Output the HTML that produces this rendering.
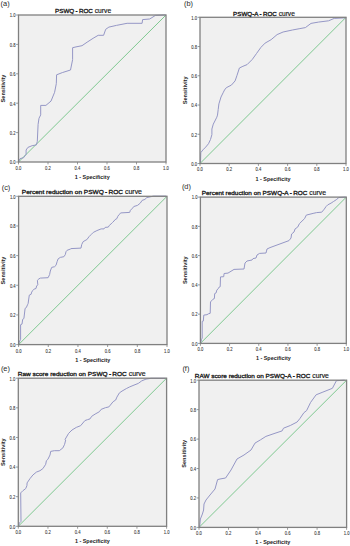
<!DOCTYPE html>
<html><head><meta charset="utf-8"><style>
html,body{margin:0;padding:0;background:#fff;width:350px;height:546px;overflow:hidden}
svg{display:block}
text{font-family:"Liberation Sans",sans-serif;}
.tk{font-size:4.9px;fill:#333;stroke:#333;stroke-width:0.08px}
.ax{font-size:6px;font-weight:bold;fill:#222}
.tt{font-size:6.2px;fill:#1a1a1a}
.tb{stroke:#1a1a1a;stroke-width:0.32px}
.tc{stroke:#1a1a1a;stroke-width:0.18px;font-size:6.6px}
.lb{font-size:7.4px;fill:#2a2a2a}
</style></head><body>
<svg width="350" height="546" viewBox="0 0 350 546">
<rect width="350" height="546" fill="#fff"/>
<rect x="18.5" y="15" width="147.50" height="147.00" fill="#f0f0f0"/>
<line x1="18.5" y1="162" x2="166" y2="15" stroke="#78c68b" stroke-width="0.95"/>
<polyline points="18.8,162.0 18.8,161.1 20.1,158.6 23.6,157.7 26.1,154.3 26.1,150.0 27.9,147.4 32.1,145.7 36.4,144.9 37.3,141.4 38.1,124.3 39.0,118.3 40.7,114.9 40.7,105.4 45.9,105.4 51.0,101.1 54.6,92.3 56.3,83.7 56.6,74.8 62.3,72.6 70.5,70.0 72.6,59.7 72.6,47.7 76.0,46.9 82.0,45.7 87.1,42.2 93.1,38.3 98.2,35.3 103.6,35.3 105.7,29.3 108.9,27.1 116.4,25.4 127.1,23.3 142.1,23.3 142.6,19.6 149.6,19.0 152.0,17.6 155.4,15.4 165.7,14.9" fill="none" stroke="#9597c6" stroke-width="1" stroke-linejoin="round"/>
<rect x="18.5" y="15" width="147.50" height="147.00" fill="none" stroke="#808080" stroke-width="1.3"/>
<line x1="16.1" y1="162.00" x2="18.5" y2="162.00" stroke="#808080" stroke-width="0.8"/>
<line x1="18.50" y1="162" x2="18.50" y2="164.4" stroke="#808080" stroke-width="0.8"/>
<text x="15.60" y="164.30" class="tk" text-anchor="end" textLength="5.8" lengthAdjust="spacingAndGlyphs">0.0</text>
<text x="18.50" y="169.90" class="tk" text-anchor="middle" textLength="5.8" lengthAdjust="spacingAndGlyphs">0.0</text>
<line x1="16.1" y1="132.60" x2="18.5" y2="132.60" stroke="#808080" stroke-width="0.8"/>
<line x1="48.00" y1="162" x2="48.00" y2="164.4" stroke="#808080" stroke-width="0.8"/>
<text x="15.60" y="134.90" class="tk" text-anchor="end" textLength="5.8" lengthAdjust="spacingAndGlyphs">0.2</text>
<text x="48.00" y="169.90" class="tk" text-anchor="middle" textLength="5.8" lengthAdjust="spacingAndGlyphs">0.2</text>
<line x1="16.1" y1="103.20" x2="18.5" y2="103.20" stroke="#808080" stroke-width="0.8"/>
<line x1="77.50" y1="162" x2="77.50" y2="164.4" stroke="#808080" stroke-width="0.8"/>
<text x="15.60" y="105.50" class="tk" text-anchor="end" textLength="5.8" lengthAdjust="spacingAndGlyphs">0.4</text>
<text x="77.50" y="169.90" class="tk" text-anchor="middle" textLength="5.8" lengthAdjust="spacingAndGlyphs">0.4</text>
<line x1="16.1" y1="73.80" x2="18.5" y2="73.80" stroke="#808080" stroke-width="0.8"/>
<line x1="107.00" y1="162" x2="107.00" y2="164.4" stroke="#808080" stroke-width="0.8"/>
<text x="15.60" y="76.10" class="tk" text-anchor="end" textLength="5.8" lengthAdjust="spacingAndGlyphs">0.6</text>
<text x="107.00" y="169.90" class="tk" text-anchor="middle" textLength="5.8" lengthAdjust="spacingAndGlyphs">0.6</text>
<line x1="16.1" y1="44.40" x2="18.5" y2="44.40" stroke="#808080" stroke-width="0.8"/>
<line x1="136.50" y1="162" x2="136.50" y2="164.4" stroke="#808080" stroke-width="0.8"/>
<text x="15.60" y="46.70" class="tk" text-anchor="end" textLength="5.8" lengthAdjust="spacingAndGlyphs">0.8</text>
<text x="136.50" y="169.90" class="tk" text-anchor="middle" textLength="5.8" lengthAdjust="spacingAndGlyphs">0.8</text>
<line x1="16.1" y1="15.00" x2="18.5" y2="15.00" stroke="#808080" stroke-width="0.8"/>
<line x1="166.00" y1="162" x2="166.00" y2="164.4" stroke="#808080" stroke-width="0.8"/>
<text x="15.60" y="17.30" class="tk" text-anchor="end" textLength="5.8" lengthAdjust="spacingAndGlyphs">1.0</text>
<text x="166.00" y="169.90" class="tk" text-anchor="middle" textLength="5.8" lengthAdjust="spacingAndGlyphs">1.0</text>
<text x="92.2" y="179.0" class="ax" text-anchor="middle" textLength="35" lengthAdjust="spacingAndGlyphs">1 - Specificity</text>
<text transform="translate(5.0,88.5) rotate(-90)" class="ax" text-anchor="middle" textLength="27.8" lengthAdjust="spacingAndGlyphs">Sensitivity</text>
<text x="55.0" y="12.9" class="tt" textLength="56.2" lengthAdjust="spacingAndGlyphs"><tspan class="tb">PSWQ - ROC</tspan><tspan class="tc"> curve</tspan></text>
<text x="0.6" y="6.3" class="lb">(a)</text>
<rect x="200" y="17.3" width="146.00" height="146.20" fill="#f0f0f0"/>
<line x1="200" y1="163.5" x2="346" y2="17.3" stroke="#78c68b" stroke-width="0.95"/>
<polyline points="200.5,162.5 200.8,152.7 202.9,149.9 205.7,147.1 208.5,143.7 210.5,139.5 211.9,134.6 211.9,129.0 213.3,124.1 215.4,120.0 216.8,117.2 217.5,115.1 218.2,109.5 218.9,103.9 221.0,97.0 223.1,92.8 224.5,90.0 226.3,87.7 231.4,85.1 235.1,80.9 236.9,75.7 239.4,68.0 242.9,66.3 247.1,64.6 252.3,59.4 256.6,53.4 260.9,47.4 265.1,43.1 271.1,39.7 277.1,34.6 283.1,32.0 292.4,30.0 299.9,28.6 305.4,27.6 311.0,23.4 318.4,22.1 328.6,20.8 334.2,18.4 346.3,17.8" fill="none" stroke="#9597c6" stroke-width="1" stroke-linejoin="round"/>
<rect x="200" y="17.3" width="146.00" height="146.20" fill="none" stroke="#808080" stroke-width="1.3"/>
<line x1="197.6" y1="163.50" x2="200" y2="163.50" stroke="#808080" stroke-width="0.8"/>
<line x1="200.00" y1="163.5" x2="200.00" y2="165.9" stroke="#808080" stroke-width="0.8"/>
<text x="197.10" y="165.80" class="tk" text-anchor="end" textLength="5.8" lengthAdjust="spacingAndGlyphs">0.0</text>
<text x="200.00" y="171.40" class="tk" text-anchor="middle" textLength="5.8" lengthAdjust="spacingAndGlyphs">0.0</text>
<line x1="197.6" y1="134.26" x2="200" y2="134.26" stroke="#808080" stroke-width="0.8"/>
<line x1="229.20" y1="163.5" x2="229.20" y2="165.9" stroke="#808080" stroke-width="0.8"/>
<text x="197.10" y="136.56" class="tk" text-anchor="end" textLength="5.8" lengthAdjust="spacingAndGlyphs">0.2</text>
<text x="229.20" y="171.40" class="tk" text-anchor="middle" textLength="5.8" lengthAdjust="spacingAndGlyphs">0.2</text>
<line x1="197.6" y1="105.02" x2="200" y2="105.02" stroke="#808080" stroke-width="0.8"/>
<line x1="258.40" y1="163.5" x2="258.40" y2="165.9" stroke="#808080" stroke-width="0.8"/>
<text x="197.10" y="107.32" class="tk" text-anchor="end" textLength="5.8" lengthAdjust="spacingAndGlyphs">0.4</text>
<text x="258.40" y="171.40" class="tk" text-anchor="middle" textLength="5.8" lengthAdjust="spacingAndGlyphs">0.4</text>
<line x1="197.6" y1="75.78" x2="200" y2="75.78" stroke="#808080" stroke-width="0.8"/>
<line x1="287.60" y1="163.5" x2="287.60" y2="165.9" stroke="#808080" stroke-width="0.8"/>
<text x="197.10" y="78.08" class="tk" text-anchor="end" textLength="5.8" lengthAdjust="spacingAndGlyphs">0.6</text>
<text x="287.60" y="171.40" class="tk" text-anchor="middle" textLength="5.8" lengthAdjust="spacingAndGlyphs">0.6</text>
<line x1="197.6" y1="46.54" x2="200" y2="46.54" stroke="#808080" stroke-width="0.8"/>
<line x1="316.80" y1="163.5" x2="316.80" y2="165.9" stroke="#808080" stroke-width="0.8"/>
<text x="197.10" y="48.84" class="tk" text-anchor="end" textLength="5.8" lengthAdjust="spacingAndGlyphs">0.8</text>
<text x="316.80" y="171.40" class="tk" text-anchor="middle" textLength="5.8" lengthAdjust="spacingAndGlyphs">0.8</text>
<line x1="197.6" y1="17.30" x2="200" y2="17.30" stroke="#808080" stroke-width="0.8"/>
<line x1="346.00" y1="163.5" x2="346.00" y2="165.9" stroke="#808080" stroke-width="0.8"/>
<text x="197.10" y="19.60" class="tk" text-anchor="end" textLength="5.8" lengthAdjust="spacingAndGlyphs">1.0</text>
<text x="346.00" y="171.40" class="tk" text-anchor="middle" textLength="5.8" lengthAdjust="spacingAndGlyphs">1.0</text>
<text x="273.0" y="180.5" class="ax" text-anchor="middle" textLength="35" lengthAdjust="spacingAndGlyphs">1 - Specificity</text>
<text transform="translate(186.5,90.4) rotate(-90)" class="ax" text-anchor="middle" textLength="27.8" lengthAdjust="spacingAndGlyphs">Sensitivity</text>
<text x="233.1" y="15.9" class="tt" textLength="61.8" lengthAdjust="spacingAndGlyphs"><tspan class="tb">PSWQ-A - ROC</tspan><tspan class="tc"> curve</tspan></text>
<text x="184" y="6.0" class="lb">(b)</text>
<rect x="18.6" y="196.3" width="148.40" height="148.30" fill="#f0f0f0"/>
<line x1="18.6" y1="344.6" x2="167" y2="196.3" stroke="#78c68b" stroke-width="0.95"/>
<polyline points="18.4,344.1 20.6,339.3 20.6,324.7 22.0,324.1 22.7,319.3 23.9,318.5 25.1,308.4 26.3,307.6 27.5,304.8 28.1,303.6 29.3,295.1 31.1,294.3 31.7,292.1 32.9,290.3 34.1,289.1 36.0,288.5 36.6,286.0 37.8,284.8 37.4,280.3 38.9,278.9 40.3,278.1 48.1,277.7 49.6,274.6 50.3,271.0 51.7,267.4 54.6,266.7 56.0,265.3 57.1,261.7 58.1,258.9 60.3,257.4 63.9,256.7 65.3,254.6 66.0,251.7 67.1,250.3 70.3,249.1 71.0,248.6 81.0,248.1 81.7,244.6 83.1,241.7 86.0,240.0 86.9,239.6 89.0,236.7 91.1,234.6 93.3,232.4 96.9,230.6 101.1,228.9 104.0,228.9 105.1,227.4 108.3,227.1 109.4,225.3 111.1,223.9 112.6,222.4 114.0,221.0 115.1,219.6 116.9,218.6 117.6,216.7 119.0,214.6 120.9,212.9 129.7,212.4 130.4,210.3 132.6,208.1 133.8,206.5 137.5,205.4 140.3,203.1 142.1,200.4 144.9,199.4 146.8,197.6 151.4,196.6 153.3,196.1 166.3,196.1" fill="none" stroke="#9597c6" stroke-width="1" stroke-linejoin="round"/>
<rect x="18.6" y="196.3" width="148.40" height="148.30" fill="none" stroke="#808080" stroke-width="1.3"/>
<line x1="16.200000000000003" y1="344.60" x2="18.6" y2="344.60" stroke="#808080" stroke-width="0.8"/>
<line x1="18.60" y1="344.6" x2="18.60" y2="347.0" stroke="#808080" stroke-width="0.8"/>
<text x="15.70" y="346.90" class="tk" text-anchor="end" textLength="5.8" lengthAdjust="spacingAndGlyphs">0.0</text>
<text x="18.60" y="352.50" class="tk" text-anchor="middle" textLength="5.8" lengthAdjust="spacingAndGlyphs">0.0</text>
<line x1="16.200000000000003" y1="314.94" x2="18.6" y2="314.94" stroke="#808080" stroke-width="0.8"/>
<line x1="48.28" y1="344.6" x2="48.28" y2="347.0" stroke="#808080" stroke-width="0.8"/>
<text x="15.70" y="317.24" class="tk" text-anchor="end" textLength="5.8" lengthAdjust="spacingAndGlyphs">0.2</text>
<text x="48.28" y="352.50" class="tk" text-anchor="middle" textLength="5.8" lengthAdjust="spacingAndGlyphs">0.2</text>
<line x1="16.200000000000003" y1="285.28" x2="18.6" y2="285.28" stroke="#808080" stroke-width="0.8"/>
<line x1="77.96" y1="344.6" x2="77.96" y2="347.0" stroke="#808080" stroke-width="0.8"/>
<text x="15.70" y="287.58" class="tk" text-anchor="end" textLength="5.8" lengthAdjust="spacingAndGlyphs">0.4</text>
<text x="77.96" y="352.50" class="tk" text-anchor="middle" textLength="5.8" lengthAdjust="spacingAndGlyphs">0.4</text>
<line x1="16.200000000000003" y1="255.62" x2="18.6" y2="255.62" stroke="#808080" stroke-width="0.8"/>
<line x1="107.64" y1="344.6" x2="107.64" y2="347.0" stroke="#808080" stroke-width="0.8"/>
<text x="15.70" y="257.92" class="tk" text-anchor="end" textLength="5.8" lengthAdjust="spacingAndGlyphs">0.6</text>
<text x="107.64" y="352.50" class="tk" text-anchor="middle" textLength="5.8" lengthAdjust="spacingAndGlyphs">0.6</text>
<line x1="16.200000000000003" y1="225.96" x2="18.6" y2="225.96" stroke="#808080" stroke-width="0.8"/>
<line x1="137.32" y1="344.6" x2="137.32" y2="347.0" stroke="#808080" stroke-width="0.8"/>
<text x="15.70" y="228.26" class="tk" text-anchor="end" textLength="5.8" lengthAdjust="spacingAndGlyphs">0.8</text>
<text x="137.32" y="352.50" class="tk" text-anchor="middle" textLength="5.8" lengthAdjust="spacingAndGlyphs">0.8</text>
<line x1="16.200000000000003" y1="196.30" x2="18.6" y2="196.30" stroke="#808080" stroke-width="0.8"/>
<line x1="167.00" y1="344.6" x2="167.00" y2="347.0" stroke="#808080" stroke-width="0.8"/>
<text x="15.70" y="198.60" class="tk" text-anchor="end" textLength="5.8" lengthAdjust="spacingAndGlyphs">1.0</text>
<text x="167.00" y="352.50" class="tk" text-anchor="middle" textLength="5.8" lengthAdjust="spacingAndGlyphs">1.0</text>
<text x="92.8" y="361.6" class="ax" text-anchor="middle" textLength="35" lengthAdjust="spacingAndGlyphs">1 - Specificity</text>
<text transform="translate(5.1,270.5) rotate(-90)" class="ax" text-anchor="middle" textLength="27.8" lengthAdjust="spacingAndGlyphs">Sensitivity</text>
<text x="21.8" y="194.1" class="tt" textLength="120.2" lengthAdjust="spacingAndGlyphs"><tspan class="tb">Percent reduction on PSWQ - ROC</tspan><tspan class="tc"> curve</tspan></text>
<text x="1.7" y="189.6" class="lb">(c)</text>
<rect x="200.4" y="197.1" width="145.90" height="146.30" fill="#f0f0f0"/>
<line x1="200.4" y1="343.4" x2="346.3" y2="197.1" stroke="#78c68b" stroke-width="0.95"/>
<polyline points="200.6,343.2 201.1,341.5 201.5,339.4 202.2,338.1 202.2,321.4 203.3,321.1 203.8,315.1 207.0,314.7 208.4,313.8 210.2,313.3 210.5,301.7 211.9,300.6 213.0,299.2 214.4,298.5 214.7,293.6 216.1,292.9 216.8,290.1 218.1,288.8 218.8,287.4 220.2,286.7 220.5,276.9 223.7,276.7 224.1,273.5 228.0,273.1 234.0,269.4 244.0,269.0 245.0,263.0 247.0,261.0 252.0,260.0 253.0,258.6 256.0,258.0 257.0,255.0 259.6,253.4 266.0,253.0 267.0,249.0 270.0,247.6 289.0,240.6 291.0,238.0 291.6,234.0 294.0,232.0 295.1,228.9 297.7,227.1 299.4,223.7 302.0,221.1 304.6,218.6 306.3,215.1 313.1,213.4 316.6,212.6 321.7,212.2 324.3,209.1 326.0,206.6 327.7,204.9 331.1,203.1 333.7,201.4 336.3,199.7 338.9,197.5 345.7,197.1" fill="none" stroke="#9597c6" stroke-width="1" stroke-linejoin="round"/>
<rect x="200.4" y="197.1" width="145.90" height="146.30" fill="none" stroke="#808080" stroke-width="1.3"/>
<line x1="198.0" y1="343.40" x2="200.4" y2="343.40" stroke="#808080" stroke-width="0.8"/>
<line x1="200.40" y1="343.4" x2="200.40" y2="345.79999999999995" stroke="#808080" stroke-width="0.8"/>
<text x="197.50" y="345.70" class="tk" text-anchor="end" textLength="5.8" lengthAdjust="spacingAndGlyphs">0.0</text>
<text x="200.40" y="351.30" class="tk" text-anchor="middle" textLength="5.8" lengthAdjust="spacingAndGlyphs">0.0</text>
<line x1="198.0" y1="314.14" x2="200.4" y2="314.14" stroke="#808080" stroke-width="0.8"/>
<line x1="229.58" y1="343.4" x2="229.58" y2="345.79999999999995" stroke="#808080" stroke-width="0.8"/>
<text x="197.50" y="316.44" class="tk" text-anchor="end" textLength="5.8" lengthAdjust="spacingAndGlyphs">0.2</text>
<text x="229.58" y="351.30" class="tk" text-anchor="middle" textLength="5.8" lengthAdjust="spacingAndGlyphs">0.2</text>
<line x1="198.0" y1="284.88" x2="200.4" y2="284.88" stroke="#808080" stroke-width="0.8"/>
<line x1="258.76" y1="343.4" x2="258.76" y2="345.79999999999995" stroke="#808080" stroke-width="0.8"/>
<text x="197.50" y="287.18" class="tk" text-anchor="end" textLength="5.8" lengthAdjust="spacingAndGlyphs">0.4</text>
<text x="258.76" y="351.30" class="tk" text-anchor="middle" textLength="5.8" lengthAdjust="spacingAndGlyphs">0.4</text>
<line x1="198.0" y1="255.62" x2="200.4" y2="255.62" stroke="#808080" stroke-width="0.8"/>
<line x1="287.94" y1="343.4" x2="287.94" y2="345.79999999999995" stroke="#808080" stroke-width="0.8"/>
<text x="197.50" y="257.92" class="tk" text-anchor="end" textLength="5.8" lengthAdjust="spacingAndGlyphs">0.6</text>
<text x="287.94" y="351.30" class="tk" text-anchor="middle" textLength="5.8" lengthAdjust="spacingAndGlyphs">0.6</text>
<line x1="198.0" y1="226.36" x2="200.4" y2="226.36" stroke="#808080" stroke-width="0.8"/>
<line x1="317.12" y1="343.4" x2="317.12" y2="345.79999999999995" stroke="#808080" stroke-width="0.8"/>
<text x="197.50" y="228.66" class="tk" text-anchor="end" textLength="5.8" lengthAdjust="spacingAndGlyphs">0.8</text>
<text x="317.12" y="351.30" class="tk" text-anchor="middle" textLength="5.8" lengthAdjust="spacingAndGlyphs">0.8</text>
<line x1="198.0" y1="197.10" x2="200.4" y2="197.10" stroke="#808080" stroke-width="0.8"/>
<line x1="346.30" y1="343.4" x2="346.30" y2="345.79999999999995" stroke="#808080" stroke-width="0.8"/>
<text x="197.50" y="199.40" class="tk" text-anchor="end" textLength="5.8" lengthAdjust="spacingAndGlyphs">1.0</text>
<text x="346.30" y="351.30" class="tk" text-anchor="middle" textLength="5.8" lengthAdjust="spacingAndGlyphs">1.0</text>
<text x="273.4" y="360.4" class="ax" text-anchor="middle" textLength="35" lengthAdjust="spacingAndGlyphs">1 - Specificity</text>
<text transform="translate(186.9,270.2) rotate(-90)" class="ax" text-anchor="middle" textLength="27.8" lengthAdjust="spacingAndGlyphs">Sensitivity</text>
<text x="201.8" y="195.0" class="tt" textLength="124.2" lengthAdjust="spacingAndGlyphs"><tspan class="tb">Percent reduction on PSWQ-A - ROC</tspan><tspan class="tc"> curve</tspan></text>
<text x="181.9" y="189.1" class="lb">(d)</text>
<rect x="18.3" y="378.2" width="148.30" height="148.10" fill="#f0f0f0"/>
<line x1="18.3" y1="526.3" x2="166.6" y2="378.2" stroke="#78c68b" stroke-width="0.95"/>
<polyline points="18.8,525.7 19.3,523.1 21.0,521.4 20.7,492.9 22.9,490.7 25.7,488.6 26.9,485.7 27.1,482.9 30.0,478.6 32.9,475.0 36.4,472.1 40.0,470.7 42.9,468.6 45.7,464.3 46.4,460.7 47.9,459.3 50.0,455.0 50.7,451.4 54.3,450.7 59.3,450.7 62.9,447.9 64.6,444.3 65.7,440.0 65.1,439.4 68.6,433.4 72.0,430.0 76.3,427.4 80.6,425.7 84.9,420.6 87.4,419.7 90.0,418.9 91.7,416.3 95.1,414.1 99.4,411.7 101.1,409.4 105.4,407.7 108.9,406.9 113.1,401.7 115.7,400.0 116.9,397.1 119.4,392.9 122.0,391.1 126.3,388.6 129.7,386.9 134.0,385.1 138.3,383.4 141.7,380.9 146.0,379.1 151.1,378.3 165.7,378.3" fill="none" stroke="#9597c6" stroke-width="1" stroke-linejoin="round"/>
<rect x="18.3" y="378.2" width="148.30" height="148.10" fill="none" stroke="#808080" stroke-width="1.3"/>
<line x1="15.9" y1="526.30" x2="18.3" y2="526.30" stroke="#808080" stroke-width="0.8"/>
<line x1="18.30" y1="526.3" x2="18.30" y2="528.6999999999999" stroke="#808080" stroke-width="0.8"/>
<text x="15.40" y="528.60" class="tk" text-anchor="end" textLength="5.8" lengthAdjust="spacingAndGlyphs">0.0</text>
<text x="18.30" y="534.20" class="tk" text-anchor="middle" textLength="5.8" lengthAdjust="spacingAndGlyphs">0.0</text>
<line x1="15.9" y1="496.68" x2="18.3" y2="496.68" stroke="#808080" stroke-width="0.8"/>
<line x1="47.96" y1="526.3" x2="47.96" y2="528.6999999999999" stroke="#808080" stroke-width="0.8"/>
<text x="15.40" y="498.98" class="tk" text-anchor="end" textLength="5.8" lengthAdjust="spacingAndGlyphs">0.2</text>
<text x="47.96" y="534.20" class="tk" text-anchor="middle" textLength="5.8" lengthAdjust="spacingAndGlyphs">0.2</text>
<line x1="15.9" y1="467.06" x2="18.3" y2="467.06" stroke="#808080" stroke-width="0.8"/>
<line x1="77.62" y1="526.3" x2="77.62" y2="528.6999999999999" stroke="#808080" stroke-width="0.8"/>
<text x="15.40" y="469.36" class="tk" text-anchor="end" textLength="5.8" lengthAdjust="spacingAndGlyphs">0.4</text>
<text x="77.62" y="534.20" class="tk" text-anchor="middle" textLength="5.8" lengthAdjust="spacingAndGlyphs">0.4</text>
<line x1="15.9" y1="437.44" x2="18.3" y2="437.44" stroke="#808080" stroke-width="0.8"/>
<line x1="107.28" y1="526.3" x2="107.28" y2="528.6999999999999" stroke="#808080" stroke-width="0.8"/>
<text x="15.40" y="439.74" class="tk" text-anchor="end" textLength="5.8" lengthAdjust="spacingAndGlyphs">0.6</text>
<text x="107.28" y="534.20" class="tk" text-anchor="middle" textLength="5.8" lengthAdjust="spacingAndGlyphs">0.6</text>
<line x1="15.9" y1="407.82" x2="18.3" y2="407.82" stroke="#808080" stroke-width="0.8"/>
<line x1="136.94" y1="526.3" x2="136.94" y2="528.6999999999999" stroke="#808080" stroke-width="0.8"/>
<text x="15.40" y="410.12" class="tk" text-anchor="end" textLength="5.8" lengthAdjust="spacingAndGlyphs">0.8</text>
<text x="136.94" y="534.20" class="tk" text-anchor="middle" textLength="5.8" lengthAdjust="spacingAndGlyphs">0.8</text>
<line x1="15.9" y1="378.20" x2="18.3" y2="378.20" stroke="#808080" stroke-width="0.8"/>
<line x1="166.60" y1="526.3" x2="166.60" y2="528.6999999999999" stroke="#808080" stroke-width="0.8"/>
<text x="15.40" y="380.50" class="tk" text-anchor="end" textLength="5.8" lengthAdjust="spacingAndGlyphs">1.0</text>
<text x="166.60" y="534.20" class="tk" text-anchor="middle" textLength="5.8" lengthAdjust="spacingAndGlyphs">1.0</text>
<text x="92.4" y="543.3" class="ax" text-anchor="middle" textLength="35" lengthAdjust="spacingAndGlyphs">1 - Specificity</text>
<text transform="translate(4.8,452.2) rotate(-90)" class="ax" text-anchor="middle" textLength="27.8" lengthAdjust="spacingAndGlyphs">Sensitivity</text>
<text x="17.7" y="376.3" class="tt" textLength="128.0" lengthAdjust="spacingAndGlyphs"><tspan class="tb">Raw score reduction on PSWQ - ROC</tspan><tspan class="tc"> curve</tspan></text>
<text x="0.9" y="371.2" class="lb">(e)</text>
<rect x="199" y="380.2" width="147.60" height="147.20" fill="#f0f0f0"/>
<line x1="199" y1="527.4" x2="346.6" y2="380.2" stroke="#78c68b" stroke-width="0.95"/>
<polyline points="199.6,527.2 200.4,519.0 202.4,514.0 203.6,510.0 204.0,504.0 206.0,500.0 210.0,495.0 215.0,489.0 217.6,479.6 220.0,479.0 225.6,478.0 231.0,470.0 237.0,459.0 244.0,455.0 251.0,450.0 255.0,443.1 260.4,439.9 265.9,436.4 274.0,433.6 282.1,430.9 283.5,428.2 290.3,425.5 297.1,422.0 299.8,418.7 303.9,412.7 306.6,410.6 310.6,402.4 316.1,394.8 322.9,392.1 332.4,388.3 336.4,380.7 344.6,380.2" fill="none" stroke="#9597c6" stroke-width="1" stroke-linejoin="round"/>
<rect x="199" y="380.2" width="147.60" height="147.20" fill="none" stroke="#808080" stroke-width="1.3"/>
<line x1="196.6" y1="527.40" x2="199" y2="527.40" stroke="#808080" stroke-width="0.8"/>
<line x1="199.00" y1="527.4" x2="199.00" y2="529.8" stroke="#808080" stroke-width="0.8"/>
<text x="196.10" y="529.70" class="tk" text-anchor="end" textLength="5.8" lengthAdjust="spacingAndGlyphs">0.0</text>
<text x="199.00" y="535.30" class="tk" text-anchor="middle" textLength="5.8" lengthAdjust="spacingAndGlyphs">0.0</text>
<line x1="196.6" y1="497.96" x2="199" y2="497.96" stroke="#808080" stroke-width="0.8"/>
<line x1="228.52" y1="527.4" x2="228.52" y2="529.8" stroke="#808080" stroke-width="0.8"/>
<text x="196.10" y="500.26" class="tk" text-anchor="end" textLength="5.8" lengthAdjust="spacingAndGlyphs">0.2</text>
<text x="228.52" y="535.30" class="tk" text-anchor="middle" textLength="5.8" lengthAdjust="spacingAndGlyphs">0.2</text>
<line x1="196.6" y1="468.52" x2="199" y2="468.52" stroke="#808080" stroke-width="0.8"/>
<line x1="258.04" y1="527.4" x2="258.04" y2="529.8" stroke="#808080" stroke-width="0.8"/>
<text x="196.10" y="470.82" class="tk" text-anchor="end" textLength="5.8" lengthAdjust="spacingAndGlyphs">0.4</text>
<text x="258.04" y="535.30" class="tk" text-anchor="middle" textLength="5.8" lengthAdjust="spacingAndGlyphs">0.4</text>
<line x1="196.6" y1="439.08" x2="199" y2="439.08" stroke="#808080" stroke-width="0.8"/>
<line x1="287.56" y1="527.4" x2="287.56" y2="529.8" stroke="#808080" stroke-width="0.8"/>
<text x="196.10" y="441.38" class="tk" text-anchor="end" textLength="5.8" lengthAdjust="spacingAndGlyphs">0.6</text>
<text x="287.56" y="535.30" class="tk" text-anchor="middle" textLength="5.8" lengthAdjust="spacingAndGlyphs">0.6</text>
<line x1="196.6" y1="409.64" x2="199" y2="409.64" stroke="#808080" stroke-width="0.8"/>
<line x1="317.08" y1="527.4" x2="317.08" y2="529.8" stroke="#808080" stroke-width="0.8"/>
<text x="196.10" y="411.94" class="tk" text-anchor="end" textLength="5.8" lengthAdjust="spacingAndGlyphs">0.8</text>
<text x="317.08" y="535.30" class="tk" text-anchor="middle" textLength="5.8" lengthAdjust="spacingAndGlyphs">0.8</text>
<line x1="196.6" y1="380.20" x2="199" y2="380.20" stroke="#808080" stroke-width="0.8"/>
<line x1="346.60" y1="527.4" x2="346.60" y2="529.8" stroke="#808080" stroke-width="0.8"/>
<text x="196.10" y="382.50" class="tk" text-anchor="end" textLength="5.8" lengthAdjust="spacingAndGlyphs">1.0</text>
<text x="346.60" y="535.30" class="tk" text-anchor="middle" textLength="5.8" lengthAdjust="spacingAndGlyphs">1.0</text>
<text x="272.8" y="544.4" class="ax" text-anchor="middle" textLength="35" lengthAdjust="spacingAndGlyphs">1 - Specificity</text>
<text transform="translate(185.5,453.8) rotate(-90)" class="ax" text-anchor="middle" textLength="27.8" lengthAdjust="spacingAndGlyphs">Sensitivity</text>
<text x="194.8" y="378.1" class="tt" textLength="134.1" lengthAdjust="spacingAndGlyphs"><tspan class="tb">RAW score reduction on PSWQ-A - ROC</tspan><tspan class="tc"> curve</tspan></text>
<text x="182.4" y="371.0" class="lb">(f)</text>
</svg>
</body></html>
